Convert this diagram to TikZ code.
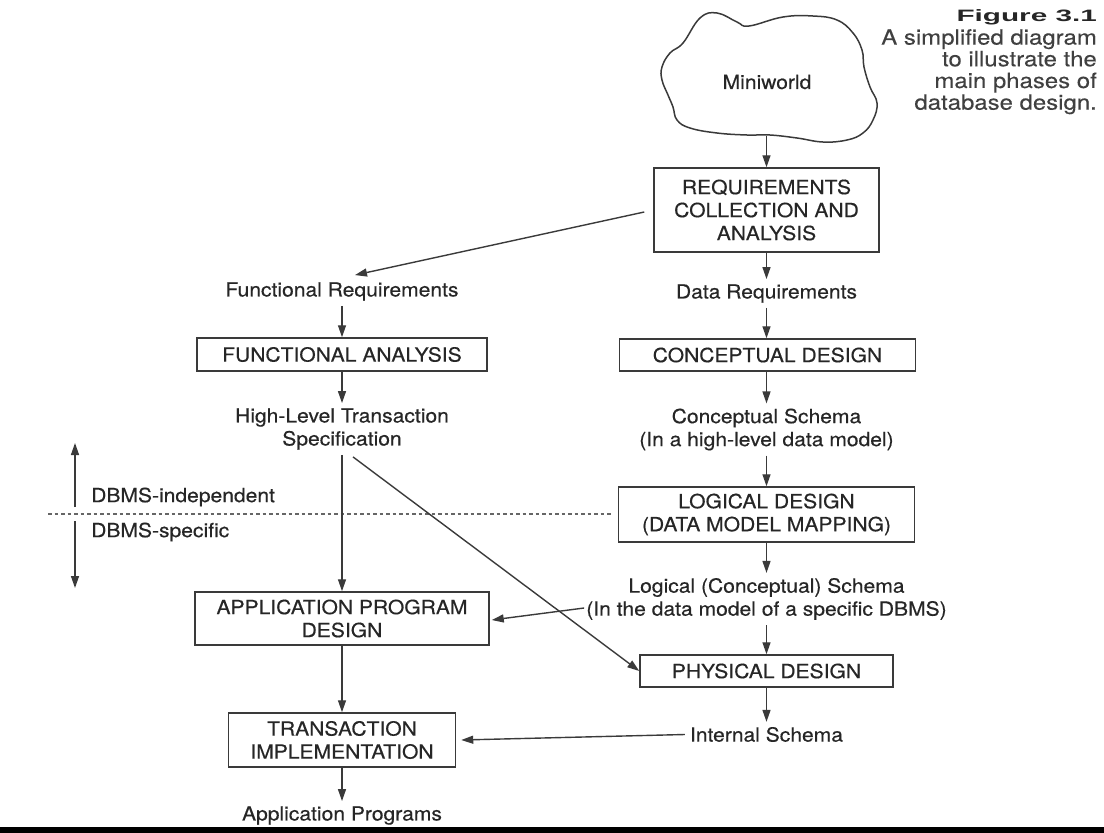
\documentclass[tikz,border=0pt]{standalone}
\usepackage{fontspec}
\usepackage{graphicx}
\setmainfont[FakeStretch=1.08,FakeBold=0.4]{TeX Gyre Heros}
\newfontfamily\capfont[FakeStretch=1.14,FakeBold=0.2]{TeX Gyre Heros}
\newfontfamily\figfont{Liberation Sans}
\usetikzlibrary{arrows.meta,calc}
\definecolor{ink}{HTML}{262626}
\definecolor{capc}{HTML}{404040}
\definecolor{edge}{HTML}{3a3a3a}
\definecolor{dashc}{HTML}{666666}
\begin{document}
\begin{tikzpicture}[x=1pt,y=-1pt,
  every node/.style={font=\fontsize{19.5}{23}\selectfont, text=ink},
  box/.style={draw=edge, line width=1.5pt, rectangle, inner sep=0pt, align=center},
  lbl/.style={inner xsep=5pt, inner ysep=5pt, align=center},
  arr/.style={draw=edge, line width=1.4pt, -{Triangle[length=12pt,width=8pt]}},
  sep/.style={draw=dashc, line width=1.2pt, dash pattern=on 3.5pt off 3pt}
]
\useasboundingbox (0,0) rectangle (1104,833);
\fill[black] (0,827) rectangle (1104,833);

% cloud
\draw[edge, line width=1.5pt] plot[smooth cycle, tension=0.7] coordinates {
 (683,43) (700,18) (717,13) (737,22) (749,26) (783,17) (813,16) (837,20)
 (853,33) (862,50) (864,67) (870,87) (877,103) (873,120) (863,133) (847,140)
 (823,142) (797,138) (770,135) (747,135) (717,133) (690,128) (677,120)
 (673,107) (668,95) (662,80) (662,67) (670,53)};
\node[inner sep=0pt] (mini) at (767,82) {Miniworld};
\coordinate (cloudbot) at (766.5,136);

% caption
\node[anchor=base east, inner sep=0pt, text=ink, font={\figfont\bfseries\fontsize{16.5}{17}\selectfont}] (figt) at (1097,21) {\scalebox{1.8}[1]{Figure 3.1}};
\node[align=right, anchor=north east, inner sep=0pt, text=capc, font=\capfont\fontsize{21}{21.7}\selectfont] (cap) at (1097,29)
  {A simplified diagram\\to illustrate the\\main phases of\\database design.};

% boxes
\node[box, minimum width=225pt, minimum height=84pt] (rca) at (766.5,210) {REQUIREMENTS\\COLLECTION AND\\ANALYSIS};
\node[box, minimum width=290pt, minimum height=33pt] (fa) at (342,354.5) {FUNCTIONAL ANALYSIS};
\node[box, minimum width=296pt, minimum height=32pt] (cd) at (767.5,355) {CONCEPTUAL DESIGN};
\node[box, minimum width=296pt, minimum height=55pt] (ld) at (766.5,514.5) {LOGICAL DESIGN\\(DATA MODEL MAPPING)};
\node[box, minimum width=294pt, minimum height=53pt] (apd) at (342,618.5) {APPLICATION PROGRAM\\DESIGN};
\node[box, minimum width=253pt, minimum height=32pt] (pd) at (766.5,671) {PHYSICAL DESIGN};
\node[box, minimum width=227pt, minimum height=54pt] (ti) at (342,740) {TRANSACTION\\IMPLEMENTATION};

% labels
\node[lbl] (fr) at (342,291.5) {Functional Requirements};
\node[lbl] (dr) at (766.5,293.5) {Data Requirements};
\node[lbl] (hlts) at (342,429) {High-Level Transaction\\Specification};
\node[lbl] (cs) at (766.5,429.5) {Conceptual Schema\\(In a high-level data model)};
\node[lbl] (ls) at (766.5,599) {Logical (Conceptual) Schema\\(In the data model of a specific DBMS)};
\node[lbl] (is) at (766.5,734.5) {Internal Schema};
\node[lbl] (ap) at (342,815.5) {Application Programs};
\node[inner sep=0pt, anchor=west] (indep) at (91,497) {DBMS-independent};
\node[inner sep=0pt, anchor=west] (spec) at (91,532) {DBMS-specific};

% DBMS divider
\coordinate (dl) at (48,514);
\coordinate (dr2) at (612,514);
\draw[sep] (dl) -- (dr2);
\coordinate (dtop) at (75,443);
\coordinate (dbot) at (75,588);
\coordinate (dm1) at (75,507);
\coordinate (dm2) at (75,521);
\draw[arr] (dm1) -- (dtop);
\draw[arr] (dm2) -- (dbot);

% connectors
\draw[arr] (cloudbot) -- (rca.north);
\draw[arr] ([xshift=-9pt,yshift=-2pt]rca.west) -- ([xshift=13pt,yshift=2pt]fr.north);
\draw[arr] (rca.south) -- (dr.north);
\draw[arr] (fr.south) -- (fa.north);
\draw[arr] (dr.south) -- (dr.south |- cd.north);
\draw[arr] (fa.south) -- (hlts.north);
\draw[arr] (cd.south -| cs.north) -- (cs.north);
\draw[arr] (cs.south) -- (ld.north);
\draw[arr] (hlts.south) -- (apd.north);
\draw[arr] ([xshift=11pt,yshift=-2pt]hlts.south) -- (pd.west);
\draw[arr] (ld.south) -- (ls.north);
\draw[arr] ([xshift=3pt,yshift=-9pt]ls.west) -- ([xshift=2pt,yshift=-1.5pt]apd.east);
\draw[arr] (ls.south) -- (pd.north);
\draw[arr] (pd.south) -- (is.north);
\draw[arr] (is.west) -- ([xshift=5pt]ti.east);
\draw[arr] (apd.south) -- (ti.north);
\draw[arr] (ti.south) -- (ap.north);
\end{tikzpicture}
\end{document}
